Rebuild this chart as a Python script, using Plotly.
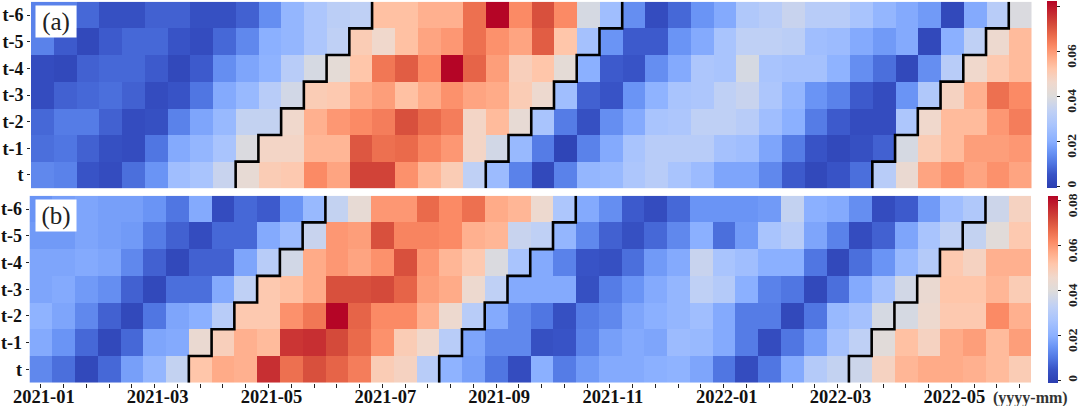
import plotly.graph_objects as go

ROWS = ["t-6", "t-5", "t-4", "t-3", "t-2", "t-1", "t"]
MONTH_LABELS = ["2021-01", "2021-03", "2021-05", "2021-07", "2021-09", "2021-11", "2022-01", "2022-03", "2022-05"]
CB_VALUES = [0, 20, 40, 60, 80]
CB_LABELS = ["0", "0.02\u00a0\u00a0\u00a0\u00a0", "0.04\u00a0\u00a0\u00a0\u00a0", "0.06\u00a0\u00a0\u00a0\u00a0", "0.08\u00a0\u00a0\u00a0\u00a0"]

# values in thousandths
A_T6 = [12,12,8,4,4,7,7,4,4,7,14,22,28,32,33,53,53,56,56,66,82,62,71,62,38,25,14,3,8,15,19,29,31,35,31,31,27,22,19,16,2,19,31,39]
A_T5 = [12,6,2,6,8,8,5,3,8,13,20,22,28,33,50,46,53,58,60,66,61,58,69,52,26,15,6,6,15,19,27,33,33,32,25,24,19,16,19,2,20,33,45,54]
A_T4 = [3,2,7,8,8,6,2,6,14,18,21,31,38,42,52,65,69,62,82,68,59,49,52,42,20,6,5,14,19,28,27,38,27,26,26,21,14,9,2,14,31,46,51,54]
A_T3 = [3,7,8,9,7,3,5,10,19,23,31,37,50,51,57,59,53,57,61,58,57,50,45,25,7,5,15,21,27,28,33,35,28,22,15,12,6,3,15,29,48,56,66,62]
A_T2 = [8,11,11,7,3,4,12,18,23,34,34,46,56,60,62,64,71,67,64,47,54,43,27,11,4,14,19,27,28,33,33,31,25,20,11,6,3,3,28,46,54,54,60,64]
A_T1 = [9,10,7,4,3,10,19,22,27,39,47,47,55,55,70,66,67,63,60,47,37,23,11,1,12,19,27,31,31,31,26,25,18,11,5,2,4,7,38,50,54,59,59,60]
A_T0 = [13,12,5,3,9,15,25,27,35,43,50,51,62,58,73,73,61,55,50,33,24,12,2,12,22,23,28,31,27,24,18,18,13,6,2,5,9,31,44,58,61,58,61,58]

B_T6 = [15,17,18,17,17,15,10,19,3,8,6,15,23,34,43,60,60,67,62,66,57,55,45,28,19,14,6,3,8,15,15,15,16,34,20,19,14,3,6,16,25,29,36,48]
B_T5 = [16,16,18,17,16,11,7,3,8,8,19,24,35,60,59,71,63,63,62,56,55,35,33,22,13,7,4,8,13,20,9,16,27,31,18,12,3,7,18,27,33,34,41,51]
B_T4 = [18,18,19,18,13,7,2,7,7,18,31,37,57,60,58,61,71,60,55,51,39,27,19,12,5,4,9,16,19,35,27,25,20,20,10,2,9,15,23,30,51,48,56,56]
B_T3 = [18,19,16,14,7,2,9,9,19,33,51,53,57,71,71,72,68,59,57,45,33,19,19,19,4,11,15,19,22,33,30,20,12,10,2,9,19,26,37,44,52,52,55,50]
B_T2 = [21,18,13,7,2,10,18,20,31,51,51,61,65,82,68,62,62,56,45,31,19,13,10,4,11,13,18,20,22,25,19,11,11,2,10,23,26,38,38,45,51,51,62,56]
B_T1 = [19,15,8,2,8,18,19,44,49,56,54,75,76,72,67,61,50,46,31,18,13,13,4,5,12,17,19,18,24,23,19,11,3,10,17,26,33,41,53,48,57,59,54,59]
B_T0 = [13,9,2,8,17,22,34,52,57,56,76,66,71,68,64,50,48,31,21,17,10,3,20,11,16,19,19,20,21,18,10,3,10,19,30,34,36,48,55,57,57,56,54,50]

STAIRS_A = [9, 20, 37]
STAIRS_B = [7, 18, 36]

ZMIN, ZMAX = -1.0, 82.2
STOPS = [(-1,"#2b3eb0"),(5,"#3853c6"),(10,"#5076e2"),(15,"#6a94f5"),(20,"#8bb0ff"),(27,"#a9c4fd"),
         (33,"#bfd0f5"),(40,"#dedcdb"),(46,"#f0d8cc"),(52,"#ffc6aa"),(57,"#ffab88"),(62,"#fb8a65"),
         (67,"#ea6a4b"),(72,"#d44a3a"),(82.2,"#b40426")]
SCALE = [[(v - ZMIN) / (ZMAX - ZMIN), c] for v, c in STOPS]

W, H = 1080, 406
FONT = "Liberation Serif"

def fx(p): return p / W
def fy(p): return 1 - p / H

panels = [
    dict(rows=[A_T6,A_T5,A_T4,A_T3,A_T2,A_T1,A_T0], stairs=STAIRS_A, x=(31,1031.5), y=(1.7,188.3), cb=1046.7, tag="(a)", xa="xaxis", ya="yaxis"),
    dict(rows=[B_T6,B_T5,B_T4,B_T3,B_T2,B_T1,B_T0], stairs=STAIRS_B, x=(29.5,1031), y=(195.7,382.7), cb=1048, tag="(b)", xa="xaxis2", ya="yaxis2"),
]

fig = go.Figure()
n_col = len(A_T6)
annos = []
layout = {}
for i, p in enumerate(panels):
    sfx = "" if i == 0 else "2"
    fig.add_trace(go.Heatmap(
        z=[[v for v in r] for r in p["rows"]],
        x=list(range(n_col)), y=list(range(len(ROWS))),
        zmin=ZMIN, zmax=ZMAX, colorscale=SCALE, xgap=0, ygap=0, hoverinfo="skip",
        xaxis="x"+sfx, yaxis="y"+sfx,
        colorbar=dict(
            x=fx(p["cb"]), xanchor="left", xpad=0, ypad=0,
            y=fy(p["y"][1]), yanchor="bottom",
            len=(p["y"][1]-p["y"][0])/H, lenmode="fraction",
            thickness=9.5, thicknessmode="pixels", outlinewidth=0,
            tickvals=CB_VALUES, ticktext=CB_LABELS,
            tickangle=-90, ticks="outside", ticklen=3, tickcolor="#222", tickwidth=1,
            tickfont=dict(family=FONT, size=13.5, color="#222", weight="bold"),
        ),
    ))
    for s in p["stairs"]:
        xs, ys = [], []
        for k in range(len(ROWS)):
            row_y = len(ROWS) - 1 - k
            xs += [s + k - 0.5, s + k - 0.5]
            ys += [row_y + 0.5, row_y - 0.5]
        fig.add_trace(go.Scatter(x=xs, y=ys, mode="lines", line=dict(color="black", width=2.6),
                                 hoverinfo="skip", showlegend=False, xaxis="x"+sfx, yaxis="y"+sfx))
    tickvals = list(range(n_col))
    ticktext = ["" for _ in tickvals]
    for j, lab in enumerate(MONTH_LABELS):
        ticktext[j*5] = lab
    layout[p["xa"]] = dict(
        domain=[fx(p["x"][0]), fx(p["x"][1])], range=[-0.5, n_col-0.5], showgrid=False, zeroline=False,
        anchor="y"+sfx, tickmode="array", tickvals=tickvals if i == 1 else [],
        ticktext=ticktext if i == 1 else [], ticks="outside" if i == 1 else "", ticklen=4, tickwidth=1, tickcolor="#222",
        tickangle=0, tickfont=dict(family=FONT, size=18.5, color="#111", weight="bold"), showline=False,
        ticklabelstandoff=-7 if i == 1 else 0, ticklabelshift=3 if i == 1 else 0,
    )
    layout[p["ya"]] = dict(
        domain=[fy(p["y"][1]), fy(p["y"][0])], range=[len(ROWS)-0.5, -0.5], showgrid=False, zeroline=False,
        anchor="x"+sfx, tickmode="array", tickvals=list(range(len(ROWS))), ticktext=ROWS,
        ticks="outside", ticklen=3, tickwidth=1, tickcolor="#222",
        tickfont=dict(family=FONT, size=18, color="#111", weight="bold"), showline=False,
    )
    annos.append(dict(text=p["tag"], xref="paper", yref="paper", x=fx(35), y=fy(p["y"][0] + 3.5),
                      xanchor="left", yanchor="top", showarrow=False, bgcolor="white",
                      width=40, height=31, align="center", valign="middle", borderpad=0,
                      font=dict(family=FONT, size=25, color="#222")))

annos.append(dict(text="(yyyy-mm)", xref="paper", yref="paper", x=fx(1070), y=fy(397.5), xanchor="right", yanchor="middle",
                  showarrow=False, font=dict(family=FONT, size=16, color="#333", weight="bold")))

fig.update_layout(width=W, height=H, margin=dict(l=0, r=0, t=0, b=0, autoexpand=False), paper_bgcolor="white", plot_bgcolor="white",
                  showlegend=False, annotations=annos, **layout)

fig.write_html("out.html", config=dict(displayModeBar=False),
               post_script="document.body.style.margin='0';document.documentElement.style.overflow='hidden';")
